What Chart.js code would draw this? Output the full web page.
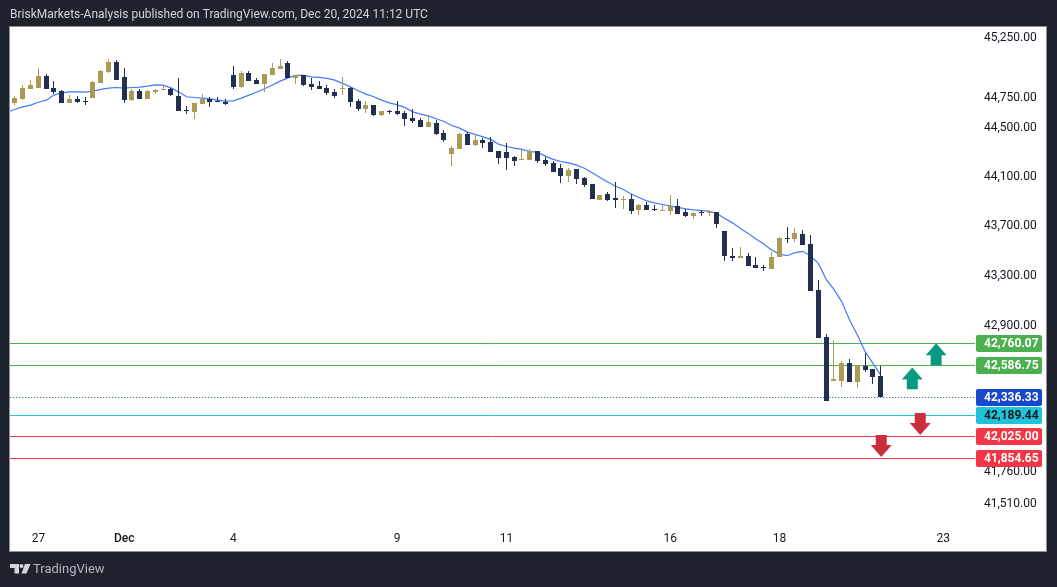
<!DOCTYPE html>
<html>
<head>
<meta charset="utf-8">
<title>BriskMarkets-Analysis</title>
<script src="https://cdn.jsdelivr.net/npm/chart.js@4/dist/chart.umd.min.js"></script>
<style>
    html, body { margin: 0; padding: 0; background: #1e222d; }
    canvas { display: block; }
</style>
</head>
<body>
<canvas id="chart" width="1057" height="587"></canvas>
<script>
const opens = [44700,44733,44816,44825,44924,44825,44800,44700,44733,44717,44742,44866,44958,45040,44916,44725,44800,44733,44792,44811,44816,44758,44642,44626,44692,44733,44717,44708,44933,44833,44949,44891,44858,44933,44983,45032,44908,44933,44858,44841,44825,44792,44816,44825,44717,44650,44684,44601,44631,44634,44618,44576,44560,44502,44535,44452,44280,44321,44444,44354,44395,44379,44305,44297,44255,44231,44231,44305,44231,44206,44165,44100,44157,44083,44034,43906,43953,43920,43906,43912,43823,43864,43831,43817,43815,43855,43807,43775,43801,43801,43807,43653,43452,43436,43452,43379,43363,43347,43444,43597,43589,43633,43549,43179,42805,42457,42457,42599,42449,42576,42552,42497];
const highs = [44758,44850,44891,44991,44941,44883,44808,44767,44758,44750,44883,44974,45065,45057,44991,44816,44816,44808,44816,44841,44825,44908,44675,44700,44775,44750,44750,44733,45007,44966,44966,44908,44941,45032,45065,45049,44933,44933,44908,44883,44850,44816,44916,44833,44733,44717,44684,44634,44642,44717,44634,44650,44576,44601,44560,44477,44346,44452,44461,44444,44411,44420,44305,44370,44264,44313,44321,44305,44255,44223,44198,44165,44157,44092,44034,43950,43969,44051,43936,43953,43872,43888,43864,43872,43945,43912,43831,43807,43823,43823,43807,43653,43517,43525,43476,43444,43379,43484,43605,43686,43678,43661,43621,43259,42829,42781,42615,42631,42583,42678,42552,42576];
const lows = [44684,44725,44816,44825,44816,44775,44700,44700,44700,44684,44742,44866,44949,44891,44700,44717,44733,44733,44775,44811,44758,44634,44609,44568,44692,44667,44708,44684,44816,44825,44883,44858,44792,44933,44983,44908,44858,44841,44808,44816,44767,44742,44767,44667,44634,44618,44593,44593,44609,44601,44510,44535,44502,44502,44436,44379,44182,44321,44354,44346,44329,44297,44198,44149,44182,44231,44231,44206,44182,44133,44042,44051,44034,44010,43912,43906,43896,43839,43831,43791,43783,43823,43815,43815,43783,43791,43767,43750,43775,43775,43678,43412,43412,43436,43371,43355,43331,43347,43444,43557,43565,43541,43171,42797,42300,42457,42410,42449,42402,42528,42434,42330];
const closes = [44742,44825,44850,44924,44816,44792,44700,44733,44708,44711,44874,44966,45040,44891,44725,44800,44733,44800,44808,44816,44767,44634,44637,44700,44733,44708,44711,44692,44833,44949,44883,44858,44941,44991,45007,44908,44933,44850,44833,44816,44783,44758,44825,44708,44650,44684,44601,44634,44626,44609,44568,44552,44502,44543,44444,44395,44329,44444,44354,44395,44370,44297,44247,44247,44223,44239,44305,44223,44198,44133,44100,44149,44075,44026,43912,43950,43904,43904,43912,43815,43864,43823,43825,43823,43855,43791,43775,43799,43796,43815,43710,43452,43436,43452,43371,43355,43355,43444,43597,43589,43637,43541,43171,42797,42300,42473,42599,42449,42583,42544,42489,42336.33];

// 20 period average, first value sits one bar left of the first candle
const maValues = [44626,44650,44669,44684,44708,44725,44767,44786,44794,44794,44792,44800,44814,44825,44830,44825,44830,44833,44841,44852,44850,44827,44792,44753,44747,44742,44736,44725,44717,44719,44742,44767,44792,44819,44850,44883,44910,44930,44930,44919,44914,44905,44891,44864,44836,44803,44775,44753,44725,44703,44686,44665,44628,44609,44595,44571,44549,44516,44494,44461,44442,44422,44401,44362,44343,44329,44319,44302,44294,44264,44237,44220,44209,44190,44165,44127,44089,44053,44018,43991,43955,43926,43898,43882,43869,43858,43845,43833,43825,43820,43815,43796,43756,43720,43675,43635,43589,43549,43501,43468,43455,43480,43490,43452,43393,43265,43185,43085,42940,42821,42689,42597,42505];

const levelPrices = [42760.07, 42586.75, 42336.33, 42189.44, 42025.00, 41854.65];
const levelColors = ['#4caf50', '#4caf50', '#1848cc', '#22c3d9', '#f23645', '#f23645'];
const levelTextColors = ['#ffffff', '#ffffff', '#ffffff', '#131722', '#ffffff', '#ffffff'];

const priceTicks = [45250, 44750, 44500, 44100, 43700, 43300, 42900, 41760, 41510];
const timeTickBars = [3, 14, 28, 49, 63, 84, 98, 119];
const timeTickLabels = ['27', 'Dec', '4', '9', '11', '16', '18', '23'];

// arrows: bar position, then the prices of the arrow's top and bottom ends
const upArrowBars = [115.04, 118.1];
const upArrowTops = [42565, 42757];
const upArrowBottoms = [42394, 42583];
const downArrowBars = [116.06, 111.06];
const downArrowTops = [42207, 42035];
const downArrowBottoms = [42035, 41865];

const TITLE = 'BriskMarkets-Analysis published on TradingView.com, Dec 20, 2024 11:12 UTC';
const FONT = 'Roboto, sans-serif';
const UP_COLOR = '#a99b54';
const DOWN_COLOR = '#222f4e';

const candleColors = opens.map((_, i) => closes[i] >= opens[i] ? UP_COLOR : DOWN_COLOR);

const formatPrice = v => v.toLocaleString('en-US', { minimumFractionDigits: 2, maximumFractionDigits: 2 });

function arrowPath(ctx, x, yTip, yEnd) {
    // tip at yTip, tail at yEnd; works for both directions
    const dir = yEnd > yTip ? 1 : -1;
    const headY = yTip + dir * 12;
    ctx.beginPath();
    ctx.moveTo(x, yTip);
    ctx.lineTo(x + 10.5, headY);
    ctx.lineTo(x + 5.5, headY);
    ctx.lineTo(x + 5.5, yEnd);
    ctx.lineTo(x - 5.5, yEnd);
    ctx.lineTo(x - 5.5, headY);
    ctx.lineTo(x - 10.5, headY);
    ctx.closePath();
    ctx.fill();
}

const framePlugin = {
    id: 'frame',
    beforeDraw(chart) {
        const ctx = chart.ctx;
        ctx.save();
        ctx.fillStyle = '#1e222d';
        ctx.fillRect(0, 0, chart.width, chart.height);
        ctx.fillStyle = '#ffffff';
        ctx.fillRect(10, 27, 1037, 524);
        ctx.strokeStyle = '#8a8e99';
        ctx.lineWidth = 1;
        ctx.strokeRect(9.5, 26.5, 1037, 525);

        ctx.fillStyle = '#d1d4dc';
        ctx.font = `12px ${FONT}`;
        ctx.textBaseline = 'middle';
        ctx.fillText(TITLE, 10, 15);

        // footer mark
        ctx.fillStyle = '#d1d4dc';
        ctx.fillRect(10, 564, 9, 4);
        ctx.fillRect(14.5, 564, 4.5, 9.5);
        ctx.beginPath();
        ctx.arc(21.5, 566, 2, 0, Math.PI * 2);
        ctx.fill();
        ctx.beginPath();
        ctx.moveTo(25, 564);
        ctx.lineTo(30.5, 564);
        ctx.lineTo(26.5, 573.5);
        ctx.lineTo(21.5, 573.5);
        ctx.closePath();
        ctx.fill();
        ctx.fillStyle = '#b2b5be';
        ctx.font = `13px ${FONT}`;
        ctx.fillText('TradingView', 33, 570);
        ctx.restore();
    },
    // keep candles and level lines on whole pixels so they stay sharp
    beforeDatasetsDraw(chart) {
        chart.data.datasets.forEach((ds, d) => {
            const meta = chart.getDatasetMeta(d);
            if (meta.type === 'bar') {
                meta.data.forEach(el => {
                    el.x = Math.floor(el.x) + 0.5;
                    el.y = Math.round(el.y);
                    el.base = Math.round(el.base);
                    if (el.y === el.base) el.base = el.y + 1;
                });
            } else if (ds.isLevel) {
                meta.data.forEach(pt => {
                    pt.y = Math.round(pt.y) + 0.5;
                });
            }
        });
    },
    afterDraw(chart) {
        const ctx = chart.ctx;
        const x = chart.scales.x;
        const y = chart.scales.y;
        ctx.save();

        ctx.fillStyle = '#089981';
        upArrowBars.forEach((bar, i) => {
            arrowPath(ctx, x.getPixelForValue(bar), y.getPixelForValue(upArrowTops[i]), y.getPixelForValue(upArrowBottoms[i]));
        });
        ctx.fillStyle = '#cc2f3c';
        downArrowBars.forEach((bar, i) => {
            arrowPath(ctx, x.getPixelForValue(bar), y.getPixelForValue(downArrowBottoms[i]), y.getPixelForValue(downArrowTops[i]));
        });

        // price tags on the right hand axis
        ctx.font = `bold 12px ${FONT}`;
        ctx.textBaseline = 'middle';
        levelPrices.forEach((price, i) => {
            const py = Math.round(y.getPixelForValue(price)) + 0.5;
            ctx.fillStyle = levelColors[i];
            ctx.beginPath();
            ctx.roundRect(976, py - 8.5, 66, 17, 2);
            ctx.fill();
            ctx.fillStyle = levelTextColors[i];
            ctx.fillText(formatPrice(price), 984, py + 0.5);
        });
        ctx.restore();
    }
};

const bars = opens.map((_, i) => i);

const levelDatasets = levelPrices.map((price, i) => ({
    type: 'line',
    isLevel: true,
    data: [{ x: -1, y: price }, { x: 124, y: price }],
    borderColor: levelColors[i],
    borderWidth: 1,
    borderDash: i === 2 ? [1, 2] : [],
    pointRadius: 0,
    order: 4
}));

new Chart(document.getElementById('chart'), {
    type: 'bar',
    data: {
        datasets: [
            {
                data: bars.map(i => ({ x: i, y: [opens[i], closes[i]] })),
                backgroundColor: candleColors,
                grouped: false,
                maxBarThickness: 5,
                minBarLength: 1,
                order: 0
            },
            {
                data: bars.map(i => ({ x: i, y: [lows[i], highs[i]] })),
                backgroundColor: candleColors,
                grouped: false,
                maxBarThickness: 1,
                order: 1
            },
            {
                type: 'line',
                data: maValues.map((v, i) => ({ x: i - 1, y: v })),
                borderColor: '#437aff',
                borderWidth: 1.2,
                pointRadius: 0,
                tension: 0,
                order: 2
            },
            ...levelDatasets
        ]
    },
    options: {
        responsive: false,
        animation: false,
        events: [],
        layout: { padding: { left: 10, right: 10, top: 27, bottom: 36 } },
        plugins: { legend: { display: false }, tooltip: { enabled: false } },
        scales: {
            x: {
                type: 'linear',
                offset: false,
                bounds: 'data',
                min: -0.641,
                max: 123.08,
                grid: { display: false },
                border: { display: false },
                afterBuildTicks(scale) {
                    scale.ticks = timeTickBars.map(value => ({ value }));
                },
                afterFit(scale) {
                    scale.height = 29;
                },
                ticks: {
                    autoSkip: false,
                    maxRotation: 0,
                    minRotation: 0,
                    padding: 2,
                    color: '#131722',
                    font: ctx => ({ family: FONT, size: 12, weight: ctx.index === 1 ? '500' : '400' }),
                    callback: (value, index) => timeTickLabels[index]
                }
            },
            y: {
                type: 'logarithmic',
                position: 'right',
                bounds: 'data',
                min: 41364,
                max: 45335,
                grid: { display: false, drawTicks: false },
                border: { display: false },
                afterBuildTicks(scale) {
                    scale.ticks = priceTicks.map(value => ({ value }));
                },
                afterFit(scale) {
                    scale.width = 72;
                },
                ticks: {
                    autoSkip: false,
                    padding: 9,
                    labelOffset: 1,
                    color: '#131722',
                    font: { family: FONT, size: 12 },
                    callback: value => formatPrice(value)
                }
            }
        }
    },
    plugins: [framePlugin]
});
</script>
</body>
</html>
